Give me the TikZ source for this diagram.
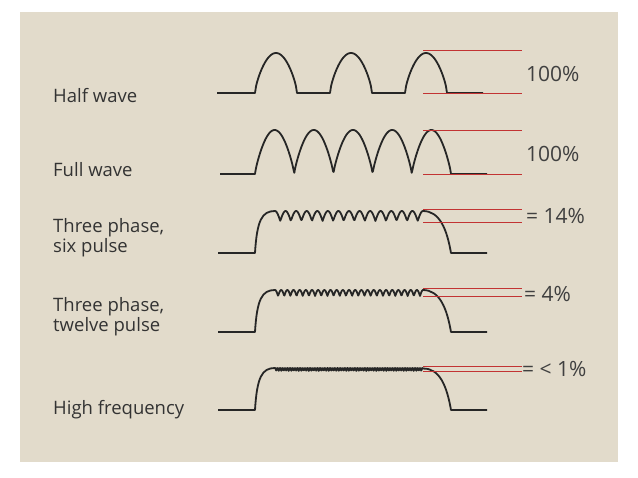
\documentclass[tikz,border=0pt]{standalone}
\usepackage{fontspec}
\setmainfont{Open Sans}
\begin{document}
\begin{tikzpicture}[x=1pt,y=-1pt,
  wave/.style={line width=1.8pt,black!85,line join=round},
  ref/.style={line width=1pt,red!70!black!80},
  lbl/.style={anchor=west,font=\fontsize{18.5}{20}\selectfont,text=black!80,align=left,inner sep=0pt},
  pct/.style={anchor=west,font=\fontsize{21}{22}\selectfont,text=black!75,inner sep=0pt}]
\fill[white] (0,0) rectangle (638,478);
\fill[fill={rgb,255:red,226;green,219;blue,203}] (20,12) rectangle (618,462);
% labels
\node[lbl] (l1) at (53,96) {Half wave};
\node[lbl] (l2) at (53,170) {Full wave};
\node[lbl] (l3) at (53,238) {Three phase,\\six pulse};
\node[lbl] (l4) at (53,317) {Three phase,\\twelve pulse};
\node[lbl] (l5) at (53,410) {High frequency};
% half wave
\draw[wave] (217,93) -- (255,93)
  -- plot[domain=255:297,samples=40] (\x,{93-40*(abs(sin((\x-255)*180/42)))^0.7}) -- (330,93)
  -- plot[domain=330:372,samples=40] (\x,{93-40*(abs(sin((\x-330)*180/42)))^0.7}) -- (405,93)
  -- plot[domain=405:447,samples=40] (\x,{93-40*(abs(sin((\x-405)*180/42)))^0.7}) -- (483,93);
% full wave
\draw[wave] (220,174) -- (255,174)
  -- plot[domain=255:451,samples=300] (\x,{174-44*(abs(sin((\x-255)*(180/39.2))))^0.8}) -- (487,174);
% six pulse
\draw[wave] (218,253) -- (255,253) .. controls (257,220) and (262,211) .. (275,211)
  -- plot[domain=275:423,samples=200] (\x,{211+10*(1-abs(sin(90+(\x-275)*(180/10.57))))})
  .. controls (440,211) and (447,230) .. (451,253) -- (487,253);
% twelve pulse
\draw[wave] (218,332) -- (255,332) .. controls (257,299) and (262,290) .. (275,290)
  -- plot[domain=275:423,samples=300] (\x,{290+6*(1-abs(sin(90+(\x-275)*(180/6.17))))})
  .. controls (440,290) and (447,309) .. (451,332) -- (487,332);
% high frequency
\draw[wave] (218,410) -- (255,410) .. controls (257,377) and (262,368) .. (275,368)
  -- plot[domain=275:423,samples=400] (\x,{368+3*(1-abs(sin(90+(\x-275)*(180/2.5))))})
  .. controls (440,368) and (447,387) .. (451,410) -- (487,410);
% reference lines
\draw[ref] (423,51) -- (522,51); \draw[ref] (423,94) -- (522,94);
\draw[ref] (423,131) -- (522,131); \draw[ref] (423,175) -- (522,175);
\draw[ref] (423,210) -- (522,210); \draw[ref] (423,223) -- (522,223);
\draw[ref] (423,289) -- (522,289); \draw[ref] (423,297) -- (522,297);
\draw[ref] (423,367) -- (522,367); \draw[ref] (423,372) -- (522,372);
% percentages
\node[pct] (p1) at (526,74) {100\%};
\node[pct] (p2) at (526,154) {100\%};
\node[pct] (p3) at (526,216) {= 14\%};
\node[pct] (p4) at (524,294) {= 4\%};
\node[pct] (p5) at (522,369) {= < 1\%};
\end{tikzpicture}
\end{document}
